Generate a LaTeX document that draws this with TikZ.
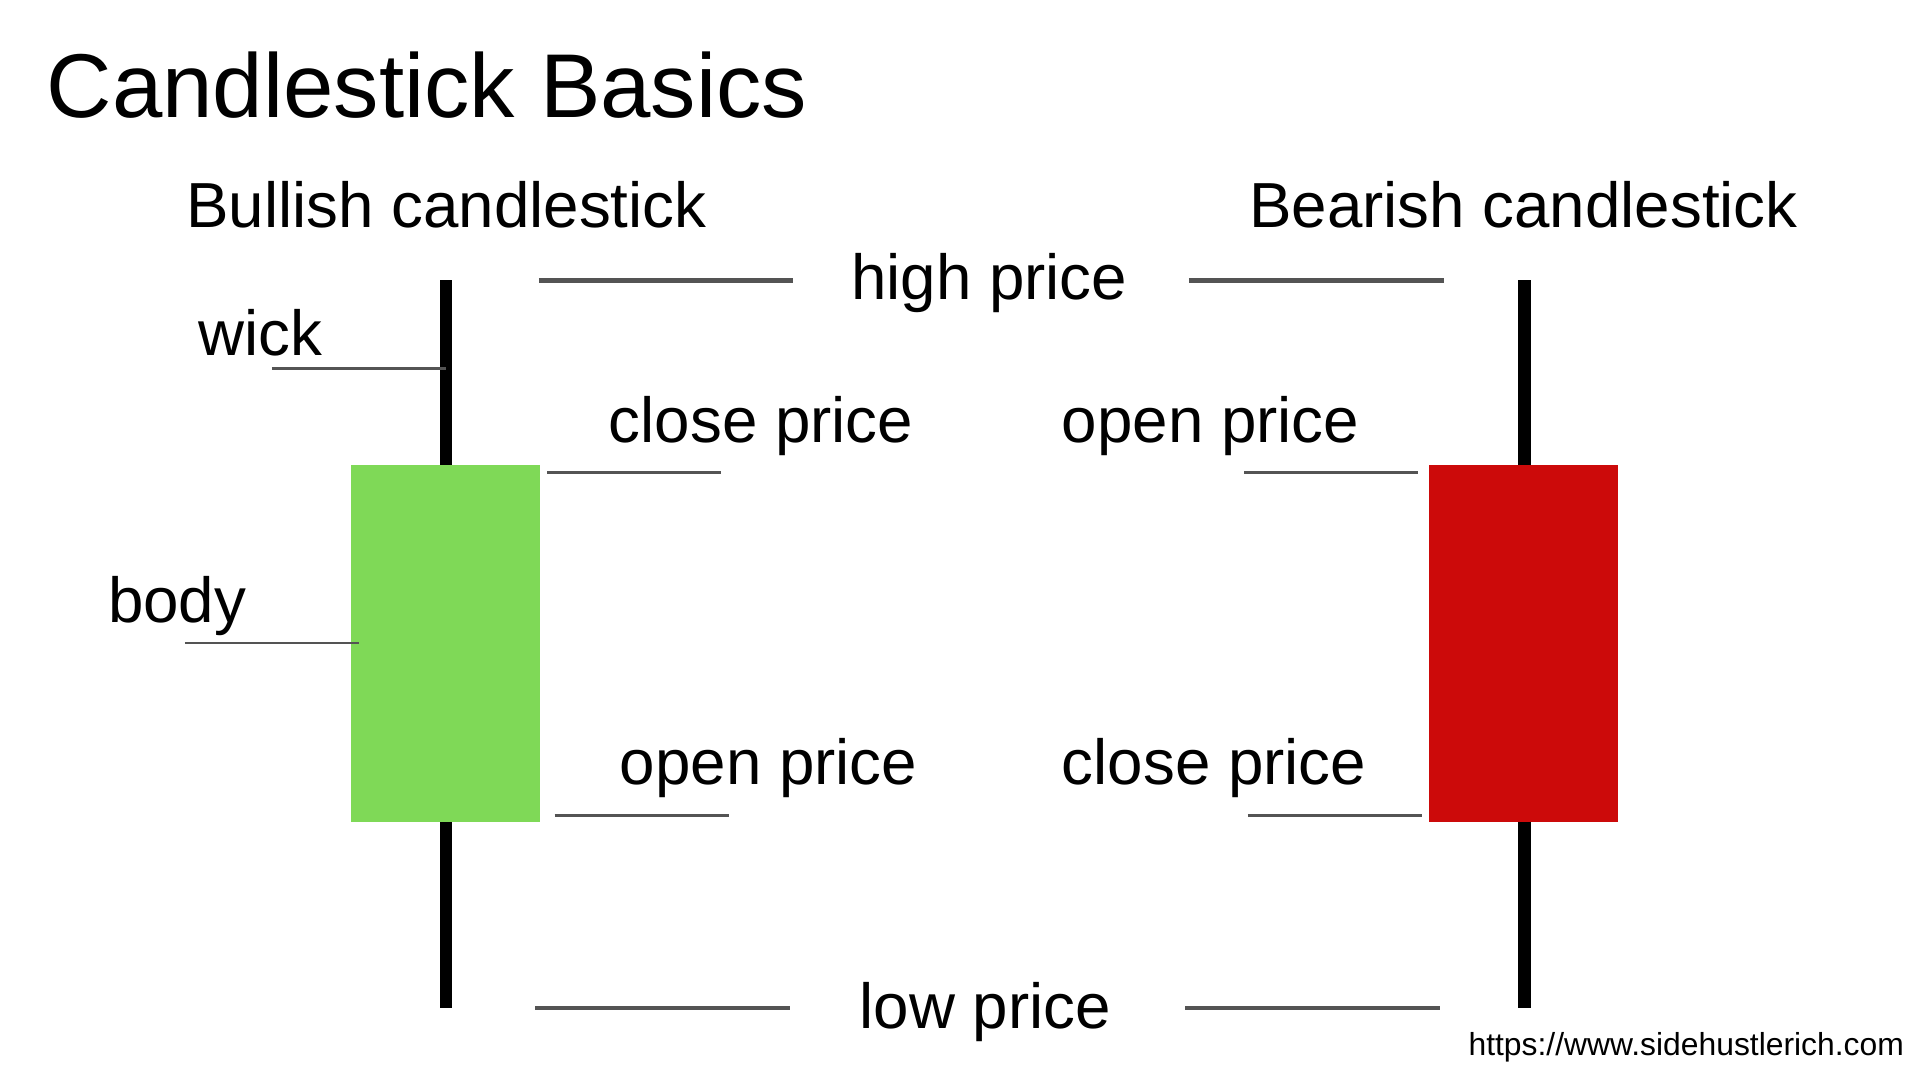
\documentclass[tikz,border=0pt]{standalone}
\usepackage{fontspec}
\setmainfont{Liberation Sans}
\begin{document}
\begin{tikzpicture}[x=1pt,y=-1pt,
  lbl/.style={anchor=base west,inner sep=0pt,font=\fontsize{52}{56}\selectfont},
  thick lead/.style={draw=black!67,line width=3.5pt},
  thin lead/.style={draw=black!67,line width=2.2pt},
  wickline/.style={line width=10pt,black}]
\useasboundingbox[fill=white] (0,0) rectangle (1568,882);
\node[anchor=base west,inner sep=0pt,font=\fontsize{74}{78}\selectfont] (title) at (38,96) {Candlestick Basics};
\node[lbl] (bull) at (152,186) {Bullish candlestick};
\node[lbl] (bear) at (1020,186) {Bearish candlestick};
% bullish
\coordinate (bwt) at (364,229); \coordinate (bwb) at (364,823);
\draw[wickline] (bwt) -- (bwb);
\fill[fill={rgb,255:red,127;green,217;blue,87}] (287,380) rectangle (441,671);
% bearish
\coordinate (rwt) at (1245,229); \coordinate (rwb) at (1245,823);
\draw[wickline] (rwt) -- (rwb);
\fill[fill={rgb,255:red,204;green,10;blue,10}] (1167,380) rectangle (1321,671);
% labels
\node[lbl] (high) at (695,245) {high price};
\node[lbl] (low) at (702,840) {low price};
\node[lbl] (wick) at (162,290) {wick};
\node[lbl] (body) at (88,508) {body};
\node[lbl] (bc) at (497,361) {close price};
\node[lbl] (bo) at (506,641) {open price};
\node[lbl] (ro) at (867,361) {open price};
\node[lbl] (rc) at (867,641) {close price};
\node[anchor=base east,inner sep=0pt,font=\fontsize{26}{28}\selectfont] (url) at (1555,862) {https://www.sidehustlerich.com};
% leaders
\draw[thick lead] (440,229) -- (648,229);
\draw[thick lead] (971,229) -- (1179,229);
\draw[thick lead] (437,823) -- (645,823);
\draw[thick lead] (968,823) -- (1176,823);
\draw[thin lead] (222,301) -- (364,301);
\draw[thin lead] (151,525) -- (293,525);
\draw[thin lead] (447,386) -- (589,386);
\draw[thin lead] (453,666) -- (595,666);
\draw[thin lead] (1016,386) -- (1158,386);
\draw[thin lead] (1019,666) -- (1161,666);
\end{tikzpicture}
\end{document}
